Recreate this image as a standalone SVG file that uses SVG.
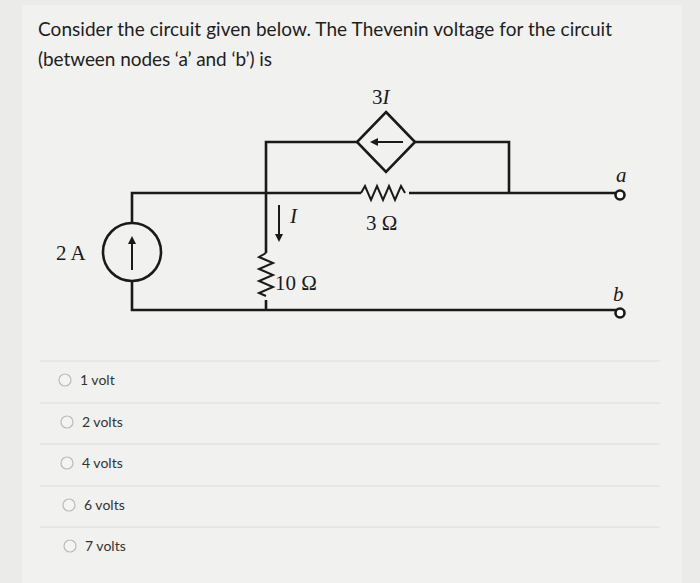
<svg xmlns="http://www.w3.org/2000/svg" width="700" height="583" viewBox="0 0 700 583">
<style>
.w{fill:none;stroke:#1a1a1a;stroke-width:2.6}
.t{font-family:Lato,"Liberation Sans",sans-serif;fill:#1e1e1e}
.c{font-family:"Liberation Serif",serif;fill:#1a1a1a;font-size:21px}
.o{font-family:Lato,"Liberation Sans",sans-serif;fill:#333;font-size:14px}
.r{fill:#f4f4f2;stroke:#bbb;stroke-width:1.2}
.sep{stroke:#dcdcda;stroke-width:1}
</style>
<defs><marker id="ah" markerWidth="8" markerHeight="8" refX="4" refY="4" orient="auto" markerUnits="userSpaceOnUse"><path d="M0,0L8,4L0,8z" fill="#1a1a1a"/></marker></defs>
<rect width="700" height="583" fill="#ebebe9"/>
<rect x="22" y="5" width="660" height="578" fill="#f1f1ef"/>
<text class="t" x="38" y="36" font-size="19" textLength="574">Consider the circuit given below. The Thevenin voltage for the circuit</text>
<text class="t" x="38" y="66" font-size="19" textLength="234">(between nodes ‘a’ and ‘b’) is</text>
<g id="connectors">
<path class="w" d="M132,223V193H361M409,193H620M132,281V310H620M266,193V253M266,300V310M266,193V142H357M415,142H509V193"/>
<path class="w" d="M361,193l4,-7l6,14l6,-14l6,14l6,-14l6,14l6,-14l4,7" style="stroke-width:2"/>
<path class="w" d="M266,253l-7,4l14,6l-14,6l14,6l-14,6l14,6l-14,6l7,3" style="stroke-width:2"/>
<line class="w" x1="279" y1="205" x2="279" y2="238" marker-end="url(#ah)" style="stroke-width:2"/>
</g>
<g id="source"><circle class="w" cx="132" cy="252" r="29"/><line class="w" x1="132" y1="270" x2="132" y2="240" marker-end="url(#ah)" style="stroke-width:2"/><text class="c" x="56" y="260">2 A</text></g>
<g id="dep"><path class="w" d="M386,112L415,142L386,172L357,142z"/><line class="w" x1="403" y1="142" x2="374" y2="142" marker-end="url(#ah)" style="stroke-width:2"/><text class="c" x="372" y="104">3<tspan font-style="italic">I</tspan></text></g>
<g id="labels">
<text class="c" x="366" y="230">3 Ω</text>
<text class="c" x="275" y="290">10 Ω</text>
<text class="c" x="290" y="223" font-style="italic">I</text>
<text class="c" x="616" y="182" font-style="italic">a</text>
<text class="c" x="613" y="301" font-style="italic">b</text>
</g>
<g id="terminals"><circle cx="620" cy="195" r="4.5" fill="#fff" stroke="#1a1a1a" stroke-width="2.6"/><circle cx="620" cy="313" r="4.5" fill="#fff" stroke="#1a1a1a" stroke-width="2.6"/></g>
<g id="options">
<line class="sep" x1="40" y1="361" x2="660" y2="361"/><line class="sep" x1="40" y1="403" x2="660" y2="403"/><line class="sep" x1="40" y1="444" x2="660" y2="444"/><line class="sep" x1="40" y1="486" x2="660" y2="486"/><line class="sep" x1="40" y1="527" x2="660" y2="527"/>
<circle class="r" cx="65" cy="380" r="6"/><text class="o" x="80" y="385">1 volt</text>
<circle class="r" cx="67" cy="422" r="6"/><text class="o" x="82" y="427">2 volts</text>
<circle class="r" cx="67" cy="463" r="6"/><text class="o" x="82" y="468">4 volts</text>
<circle class="r" cx="69" cy="505" r="6"/><text class="o" x="84" y="510">6 volts</text>
<circle class="r" cx="70" cy="546" r="6"/><text class="o" x="85" y="551">7 volts</text>
</g>
</svg>
